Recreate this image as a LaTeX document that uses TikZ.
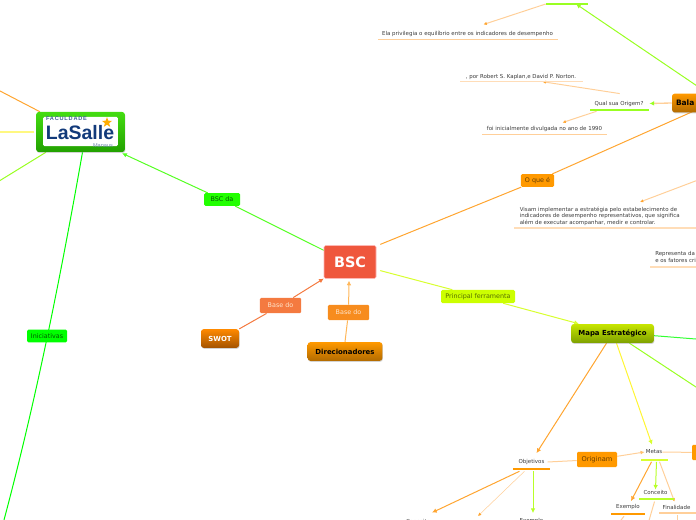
\documentclass[tikz,border=0pt]{standalone}
\usepackage{fontspec}
\setmainfont{DejaVu Sans}
\newfontfamily\logofont{Liberation Sans}
\usetikzlibrary{arrows.meta,backgrounds,shadows,shapes.geometric}

\definecolor{mmOrange}{HTML}{FF9900}
\definecolor{mmLine}{HTML}{FFA530}
\definecolor{mmPale}{HTML}{FFCF99}
\definecolor{mmGreen}{HTML}{55FF22}
\definecolor{mmLime}{HTML}{99FF22}
\definecolor{mmYellow}{HTML}{D8FF30}
\definecolor{mmText}{HTML}{3A3A3A}
\definecolor{mmBlue}{HTML}{123A7A}
\definecolor{mmRed}{HTML}{EF573D}
\definecolor{mmSalmon}{HTML}{F47A40}
\definecolor{mmAmber}{HTML}{F78C1E}
\definecolor{mmTag}{HTML}{22FF00}
\definecolor{mmChart}{HTML}{CCFF00}
\definecolor{mmOlive}{HTML}{C8E600}
\definecolor{mmOliveDark}{HTML}{7DA000}
\definecolor{mmSide}{HTML}{33FF33}
\definecolor{mmLogoTop}{HTML}{44DD11}
\definecolor{mmLogoLow}{HTML}{22A000}

\tikzset{
	tiny text/.style={text=mmText, font=\fontsize{4.1}{5}\selectfont, inner sep=0pt},
	tag/.style={rounded corners=1pt, inner sep=0pt, font=\fontsize{4.8}{6}\selectfont},
	topic/.style={rounded corners=2pt, inner sep=0pt, drop shadow={shadow xshift=0.4pt, shadow yshift=-0.7pt, opacity=0.35}, font=\bfseries\fontsize{5.2}{6}\selectfont},
	bar/.style={rectangle, inner sep=0pt, minimum height=1.5pt},
	thin bar/.style={rectangle, inner sep=0pt, minimum height=1.1pt},
	link/.style={line width=0.75pt, -{Latex[length=3.5pt,width=3.5pt]}},
	plain link/.style={line width=0.75pt},
}

\begin{document}
\begin{tikzpicture}[x=0.75pt, y=-0.75pt]
	\useasboundingbox (0,0) rectangle (696,520);
	\clip (0,0) rectangle (696,520);

	% centre and logo
	\node[fill=mmRed, draw=white!70!red, line width=0.4pt, rounded corners=1pt, minimum width=39pt, minimum height=24.5pt, inner sep=0pt, text=white, font=\bfseries\fontsize{10.8}{12}\selectfont] (bsc) at (350,262) {BSC};
	\node[topic, top color=mmLogoTop, bottom color=mmLogoLow, minimum width=66.5pt, minimum height=30pt] (logo) at (80.5,132) {};
	\node[fill=white, rounded corners=1pt, minimum width=56pt, minimum height=22pt, inner sep=0pt] (logoBack) at (80.5,131.5) {};
	\node[inner sep=0pt, text=mmBlue, font=\logofont\bfseries\fontsize{14.6}{15}\selectfont] (logoName) at (80,132.5) {LaSalle};
	\node[inner sep=0pt, text=mmBlue!80, font=\logofont\bfseries\fontsize{4.2}{4.2}\selectfont\addfontfeature{LetterSpace=14}] (logoTop) at (66.5,119) {FACULDADE};
	\node[inner sep=0pt, text=mmBlue!60, font=\logofont\fontsize{4.2}{4.2}\selectfont] (logoCity) at (103,145.2) {Manaus};
	\node[star, star points=5, star point ratio=2.4, fill=mmOrange!80!yellow, inner sep=0pt, minimum size=8pt] (logoStar) at (107,122.5) {};

	% main topics
	\node[topic, top color=mmOrange, bottom color=mmOrange!70!black, minimum width=56pt, minimum height=14pt, text=black] (dir) at (345,351.5) {Direcionadores};
	\node[topic, top color=mmOrange!90!red, bottom color=mmOrange!60!black!90!red, minimum width=28.5pt, minimum height=14pt, text=white] (swot) at (220,338.5) {SWOT};
	\node[topic, top color=mmOlive, bottom color=mmOliveDark, minimum width=62pt, minimum height=14.2pt, text=black] (mapa) at (612.5,333.5) {Mapa Estratégico};
	\node[topic, top color=mmOrange, bottom color=mmOrange!70!black, minimum width=60pt, minimum height=14pt, text width=54pt, align=left, text=black, font=\bfseries\fontsize{5.6}{6}\selectfont] (bala) at (712,103) {Bala};

	% tags
	\node[tag, fill=mmTag, text=green!35!black, minimum width=27pt, minimum height=9.5pt] (bscDa) at (222,199.5) {BSC da};
	\node[tag, fill=green, text=green!35!black, minimum width=30pt, minimum height=9.5pt] (iniciativas) at (47,336) {Iniciativas};
	\node[tag, fill=mmSalmon, text=white!80!orange, minimum width=31pt, minimum height=11.5pt] (baseSwot) at (280.5,305.5) {Base do};
	\node[tag, fill=mmAmber, text=white!80!orange, minimum width=31pt, minimum height=11.5pt] (baseDir) at (348.5,312.5) {Base do};
	\node[tag, fill=mmOrange, text=mmOrange!40!black, minimum width=25pt, minimum height=9.5pt] (oQue) at (537.5,180.5) {O que é};
	\node[tag, fill=mmChart, text=mmOliveDark!70!black, minimum width=55.5pt, minimum height=9.8pt] (principal) at (478,296.5) {Principal ferramenta};
	\node[tag, fill=mmOrange, text=mmOrange!40!black, minimum width=30pt, minimum height=11.5pt, font=\fontsize{5}{6}\selectfont] (originam) at (597,459.5) {Originam};
	\node[tag, fill=mmOrange, minimum width=12pt, minimum height=11.5pt] (metasTag) at (700,452.5) {};

	% upper right texts
	\node[bar, fill=mmLime, minimum width=31.5pt] (topBar) at (567,4) {};
	\node[tiny text] (ela) at (467.5,33.5) {Ela privilegia o equilíbrio entre os indicadores de desempenho};
	\node[thin bar, fill=mmPale, minimum width=135pt] (elaBar) at (468,39.3) {};
	\node[tiny text] (origem) at (619,103.5) {Qual sua Origem?};
	\node[bar, fill=mmLime, minimum width=44.5pt] (origemBar) at (619.5,110) {};
	\node[tiny text] (kaplan) at (521,76.5) {, por Robert S. Kaplan,e David P. Norton.};
	\node[thin bar, fill=mmPale!70, minimum width=92pt] (kaplanBar) at (521.5,81.7) {};
	\node[tiny text] (ano) at (544.5,128.5) {foi inicialmente divulgada no ano de 1990};
	\node[thin bar, fill=mmPale, minimum width=93.5pt] (anoBar) at (544.5,134.5) {};
	\node[tiny text, align=left, anchor=north west] (visam) at (519.5,206.5) {Visam implementar a estratégia pelo estabelecimento de\\indicadores de desempenho representativos, que significa\\além de executar acompanhar, medir e controlar.};
	\node[bar, fill=mmPale!70, minimum width=140pt] (visamBar) at (607,228) {};
	\node[tiny text, align=left, anchor=north west] (representa) at (655,251.5) {Representa da\\e os fatores cri};
	\node[thin bar, fill=mmPale!70, minimum width=40pt] (representaBar) at (677,267) {};

	% lower right texts
	\node[tiny text] (objetivos) at (531.5,462) {Objetivos};
	\node[bar, fill=mmOrange, minimum width=27.5pt] (objetivosBar) at (531.5,469) {};
	\node[tiny text] (metas) at (654,452) {Metas};
	\node[bar, fill=mmYellow, minimum width=20pt] (metasBar) at (654.5,459.5) {};
	\node[tiny text] (conceitoM) at (655.5,492) {Conceito};
	\node[bar, fill=mmYellow!85!green, minimum width=26pt] (conceitoBar) at (656.5,499.3) {};
	\node[tiny text] (exemploM) at (628,507) {Exemplo};
	\node[bar, fill=mmOrange, minimum width=25.5pt] (exemploBar) at (628,514) {};
	\node[tiny text] (finalidade) at (676.5,507) {Finalidade};
	\node[thin bar, fill=mmPale, minimum width=30pt] (finalidadeBar) at (679,513) {};
	\node[tiny text] (conceitoO) at (418,521) {Conceito};
	\node[tiny text] (exemploO) at (531.5,521) {Exemplo};

	% free ends
	\coordinate (leftA) at (-5,88.4);
	\coordinate (leftB) at (-5,132);
	\coordinate (leftC) at (-5,183.6);
	\coordinate (leftD) at (4,520);
	\coordinate (rightA) at (746,343);
	\coordinate (rightB) at (746,420);
	\coordinate (rightC) at (706,177);
	\coordinate (dotEnd) at (478,516);
	\coordinate (visamEnd) at (640,202);
	\coordinate (outConceito) at (648,524);
	\coordinate (outExemplo) at (618,524);
	\coordinate (outFinalidade) at (677,524);

	\begin{scope}[on background layer]
		\clip (0,0) rectangle (696,520);

		\draw[link, mmGreen] (bsc.156) -- (bscDa) -- ([shift={(-3,1)}]logo.south east);
		\draw[link, mmSalmon] (swot.north east) -- (baseSwot) -- (bsc.south west);
		\draw[link, mmLine!80] (dir.north) -- (baseDir) -- ([shift={(-1,2)}]bsc.south);
		\draw[plain link, mmLine] ([shift={(4,-1)}]bsc.north east) -- (oQue) -- (bala.center);
		\draw[link, mmYellow] ([shift={(4,-8)}]bsc.south east) -- (principal) -- ([shift={(8,0)}]mapa.north west);

		\draw[plain link, mmLine] (leftA) -- ([shift={(4,0)}]logo.north west);
		\draw[plain link, yellow!50, line width=1.1pt] (leftB) -- ([shift={(-2,0)}]logo.west);
		\draw[plain link, mmLime] (leftC) -- ([shift={(10,0)}]logo.south west);
		\draw[plain link, green] ([shift={(2,0)}]logo.south) .. controls (60,280) and (36,400) .. (leftD);

		\draw[link, mmLime] ([shift={(-4,0)}]bala.north) -- ([shift={(9,0)}]topBar.center);
		\draw[link, mmPale, line width=1pt, -{Latex[length=3.5pt,width=3.5pt,mmLime]}] (bala.west) -- (origemBar.east |- origem);
		\draw[link, mmPale, -{Latex[length=2.5pt,width=2.5pt,mmLine]}] (topBar.west) -- ([shift={(16,-6)}]ela.north);
		\draw[link, mmPale, -{Latex[length=2.5pt,width=2.5pt,mmLine]}] ([shift={(-24,-7)}]origem.north east) -- ([shift={(21,0)}]kaplanBar.center);
		\draw[link, mmPale, -{Latex[length=2.5pt,width=2.5pt,mmLine]}] ([shift={(7,0)}]origemBar.south west) -- ([shift={(18,-3)}]ano.north);
		\draw[link, mmPale, -{Latex[length=2.5pt,width=2.5pt,mmLine]}] (rightC) -- (visamEnd);

		\draw[plain link, mmSide] (mapa.-3) -- (rightA);
		\draw[plain link, mmLime] ([shift={(17,0)}]mapa.south) -- (rightB);
		\draw[link, mmLine] ([shift={(-6,0)}]mapa.south) -- ([shift={(5,-6)}]objetivos.north);
		\draw[link, yellow!80, -{Latex[length=3.5pt,width=3.5pt,mmYellow]}] ([shift={(4,0)}]mapa.south) -- ([shift={(-2,-5)}]metas.north);

		\draw[link, mmPale, -{Latex[length=3pt,width=3pt,mmLine!70]}] ([shift={(3,0)}]objetivos.east) -- (originam) -- ([shift={(-1,0)}]metas.west);
		\draw[plain link, mmPale] (metas.east) -- (metasTag);
		\draw[link, mmLine] ([shift={(-12,1)}]objetivosBar.south) -- ([shift={(14,-6)}]conceitoO.north);
		\draw[link, mmPale, line width=0.4pt, -{Latex[length=2.5pt,width=2.5pt,mmLine]}] ([shift={(-7,1)}]objetivosBar.south) -- (dotEnd);
		\draw[link, mmYellow!85!green] ([shift={(1.5,1)}]objetivosBar.south) -- ([shift={(1.5,-5)}]exemploO.north);

		\draw[link, mmLine] ([shift={(-3,1)}]metasBar.south) -- ([shift={(3,-3)}]exemploM.north);
		\draw[link, mmYellow!85!green] ([shift={(2,1)}]metasBar.south) -- (conceitoM.north);
		\draw[link, mmPale, -{Latex[length=2.5pt,width=2.5pt,mmLine]}] ([shift={(5,1)}]metasBar.south) -- ([shift={(-2,-3)}]finalidade.north);
		\draw[plain link, mmPale] ([shift={(-2,1)}]conceitoBar.south) -- (outConceito);
		\draw[plain link, mmPale] ([shift={(-4,1)}]exemploBar.south) -- (outExemplo);
		\draw[plain link, mmPale] ([shift={(-2,1)}]finalidadeBar.south) -- (outFinalidade);
	\end{scope}
\end{tikzpicture}
\end{document}
